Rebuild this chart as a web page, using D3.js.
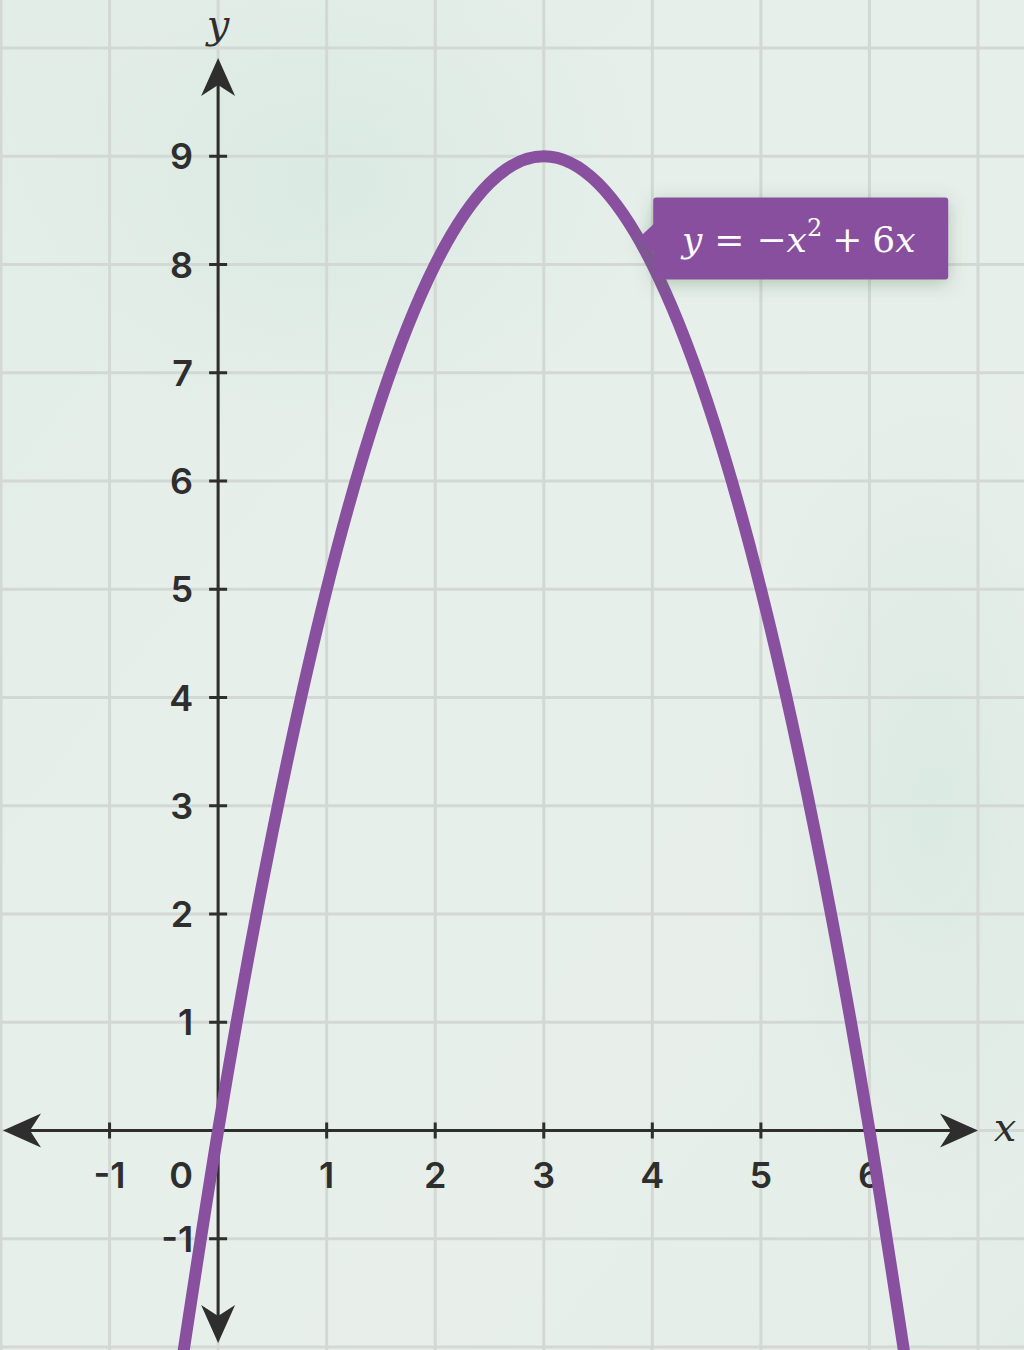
<!DOCTYPE html>
<html lang="en">
<head>
<meta charset="utf-8">
<title>Parabola</title>
<script src="https://d3js.org/d3.v7.min.js"></script>
<style>
  html, body { margin: 0; padding: 0; background: #e5eee9; }
  svg { display: block; }
</style>
</head>
<body>
<div id="canvas"></div>
<script>
// values
const xTicks = [-1, 0, 1, 2, 3, 4, 5, 6]
const yTicks = [-1, 1, 2, 3, 4, 5, 6, 7, 8, 9]
const gridX = [-2, -1, 0, 1, 2, 3, 4, 5, 6, 7]
const gridY = [-2, -1, 0, 1, 2, 3, 4, 5, 6, 7, 8, 9, 10]
const curveX = [-0.5, 0, 0.5, 1, 1.5, 2, 2.5, 3, 3.5, 4, 4.5, 5, 5.5, 6, 6.5]
const curveY = [-3.25, 0, 2.75, 5, 6.75, 8, 8.75, 9, 8.75, 8, 6.75, 5, 2.75, 0, -3.25]
const labelAnchor = [3.87, 8.24]

const width = 1024
const height = 1350

const svg = d3.select("#canvas")
  .append("svg")
    .attr("width", width)
    .attr("height", height)

const defs = svg.append("defs")

const bg = defs.append("linearGradient")
  .attr("id", "bg").attr("x1", 0).attr("y1", 0).attr("x2", 1).attr("y2", 1)
bg.append("stop").attr("offset", "0%").attr("stop-color", "#e2ede7")
bg.append("stop").attr("offset", "35%").attr("stop-color", "#e6efea")
bg.append("stop").attr("offset", "70%").attr("stop-color", "#e8efea")
bg.append("stop").attr("offset", "100%").attr("stop-color", "#e3ede7")

const spot = defs.append("radialGradient").attr("id", "spot")
spot.append("stop").attr("offset", "0%").attr("stop-color", "#d8e9e0").attr("stop-opacity", 0.8)
spot.append("stop").attr("offset", "100%").attr("stop-color", "#d8e9e0").attr("stop-opacity", 0)

const shadow = defs.append("filter").attr("id", "shadow")
  .attr("x", "-30%").attr("y", "-60%").attr("width", "160%").attr("height", "220%")
shadow.append("feDropShadow")
  .attr("dx", 0).attr("dy", 4).attr("stdDeviation", 9)
  .attr("flood-color", "#3f7a4c").attr("flood-opacity", 0.35)

defs.append("clipPath").attr("id", "plot")
  .append("rect").attr("width", width).attr("height", height)

svg.append("rect").attr("width", width).attr("height", height).attr("fill", "url(#bg)")
svg.append("ellipse").attr("cx", 330).attr("cy", 180).attr("rx", 320).attr("ry", 260).attr("fill", "url(#spot)")
svg.append("ellipse").attr("cx", 930).attr("cy", 800).attr("rx", 200).attr("ry", 420).attr("fill", "url(#spot)")

const x = d3.scaleLinear().domain([-2, 7]).range([1, 978])
const y = d3.scaleLinear().domain([-2, 10]).range([1347, 48])

// grid
svg.append("g")
  .selectAll("line")
  .data(gridX)
  .join("line")
    .attr("x1", d => x(d)).attr("x2", d => x(d))
    .attr("y1", 0).attr("y2", height)
    .attr("stroke", "#d3d8d4").attr("stroke-width", 3)

svg.append("g")
  .selectAll("line")
  .data(gridY)
  .join("line")
    .attr("y1", d => y(d)).attr("y2", d => y(d))
    .attr("x1", 0).attr("x2", width)
    .attr("stroke", "#d3d8d4").attr("stroke-width", 3)

const axisColor = "#2e2e2e"
const font = "Inter, 'Helvetica Neue', 'Liberation Sans', sans-serif"
const serif = "'DejaVu Serif', 'Liberation Serif', serif"

// axes lines
svg.append("line")
  .attr("x1", 20).attr("x2", x(7) - 20)
  .attr("y1", y(0)).attr("y2", y(0))
  .attr("stroke", axisColor).attr("stroke-width", 3)
svg.append("line")
  .attr("x1", x(0)).attr("x2", x(0))
  .attr("y1", 80).attr("y2", 1320)
  .attr("stroke", axisColor).attr("stroke-width", 3)

// arrow heads (tip at origin, pointing right)
const arrow = "M0,0 L-38,-17 L-27,0 L-38,17 Z"
const arrows = [
  {px: x(7), py: y(0), rot: 0},
  {px: 3, py: y(0), rot: 180},
  {px: x(0), py: 58, rot: -90},
  {px: x(0), py: 1343, rot: 90}
]
svg.append("g")
  .selectAll("path")
  .data(arrows)
  .join("path")
    .attr("d", arrow)
    .attr("transform", d => `translate(${d.px},${d.py}) rotate(${d.rot})`)
    .attr("fill", axisColor)

// ticks
svg.append("g")
  .selectAll("line")
  .data(xTicks.filter(d => d !== 0))
  .join("line")
    .attr("x1", d => x(d)).attr("x2", d => x(d))
    .attr("y1", y(0) - 8).attr("y2", y(0) + 8)
    .attr("stroke", axisColor).attr("stroke-width", 3)
svg.append("g")
  .selectAll("line")
  .data(yTicks)
  .join("line")
    .attr("y1", d => y(d)).attr("y2", d => y(d))
    .attr("x1", x(0) - 9).attr("x2", x(0) + 9)
    .attr("stroke", axisColor).attr("stroke-width", 3)

// tick labels
svg.append("g")
  .selectAll("text")
  .data(xTicks)
  .join("text")
    .attr("x", d => d === 0 ? x(0) - 37 : x(d))
    .attr("y", y(0) + 57)
    .attr("text-anchor", "middle")
    .attr("font-family", font)
    .attr("font-weight", 600)
    .attr("font-size", 36)
    .attr("fill", axisColor)
    .text(d => d)
svg.append("g")
  .selectAll("text")
  .data(yTicks)
  .join("text")
    .attr("x", x(0) - 25)
    .attr("y", d => y(d) + 13)
    .attr("text-anchor", "end")
    .attr("font-family", font)
    .attr("font-weight", 600)
    .attr("font-size", 36)
    .attr("fill", axisColor)
    .text(d => d)

// axis names
svg.append("text")
  .attr("x", x(0)).attr("y", 38)
  .attr("text-anchor", "middle")
  .attr("font-family", serif)
  .attr("font-style", "italic")
  .attr("font-size", 40)
  .attr("fill", axisColor)
  .text("y")
svg.append("text")
  .attr("x", 1005).attr("y", y(0) + 10)
  .attr("text-anchor", "middle")
  .attr("font-family", serif)
  .attr("font-style", "italic")
  .attr("font-size", 40)
  .attr("fill", axisColor)
  .text("x")

// the curve
const pts = curveX.map((d, i) => [d, curveY[i]])
const line = d3.line()
  .x(d => x(d[0]))
  .y(d => y(d[1]))
  .curve(d3.curveNatural)

svg.append("path")
  .datum(pts)
  .attr("clip-path", "url(#plot)")
  .attr("d", line)
  .attr("fill", "none")
  .attr("stroke", "#88509e")
  .attr("stroke-width", 12)

// label
const tipX = x(labelAnchor[0]), tipY = y(labelAnchor[1])
const boxX = tipX + 15, boxY = tipY - 41, boxW = 295, boxH = 82
const lab = svg.append("g").attr("filter", "url(#shadow)")
lab.append("rect")
  .attr("x", boxX).attr("y", boxY)
  .attr("width", boxW).attr("height", boxH)
  .attr("rx", 3)
  .attr("fill", "#88509e")
lab.append("path")
  .attr("d", `M${tipX},${tipY} L${boxX + 1},${tipY - 15} L${boxX + 1},${tipY + 15} Z`)
  .attr("fill", "#88509e")

const eq = svg.append("text")
  .attr("x", boxX + boxW / 2 - 2).attr("y", tipY + 13)
  .attr("text-anchor", "middle")
  .attr("font-family", serif)
  .attr("font-size", 36)
  .attr("fill", "#ffffff")
eq.append("tspan").attr("font-style", "italic").text("y")
eq.append("tspan").attr("dx", 12).text("=")
eq.append("tspan").attr("dx", 12).text("\u2212")
eq.append("tspan").attr("font-style", "italic").text("x")
eq.append("tspan").attr("font-size", 24).attr("dy", -16).text("2")
eq.append("tspan").attr("dy", 16).attr("dx", 10).text("+")
eq.append("tspan").attr("dx", 10).text("6")
eq.append("tspan").attr("font-style", "italic").text("x")
</script>
</body>
</html>
